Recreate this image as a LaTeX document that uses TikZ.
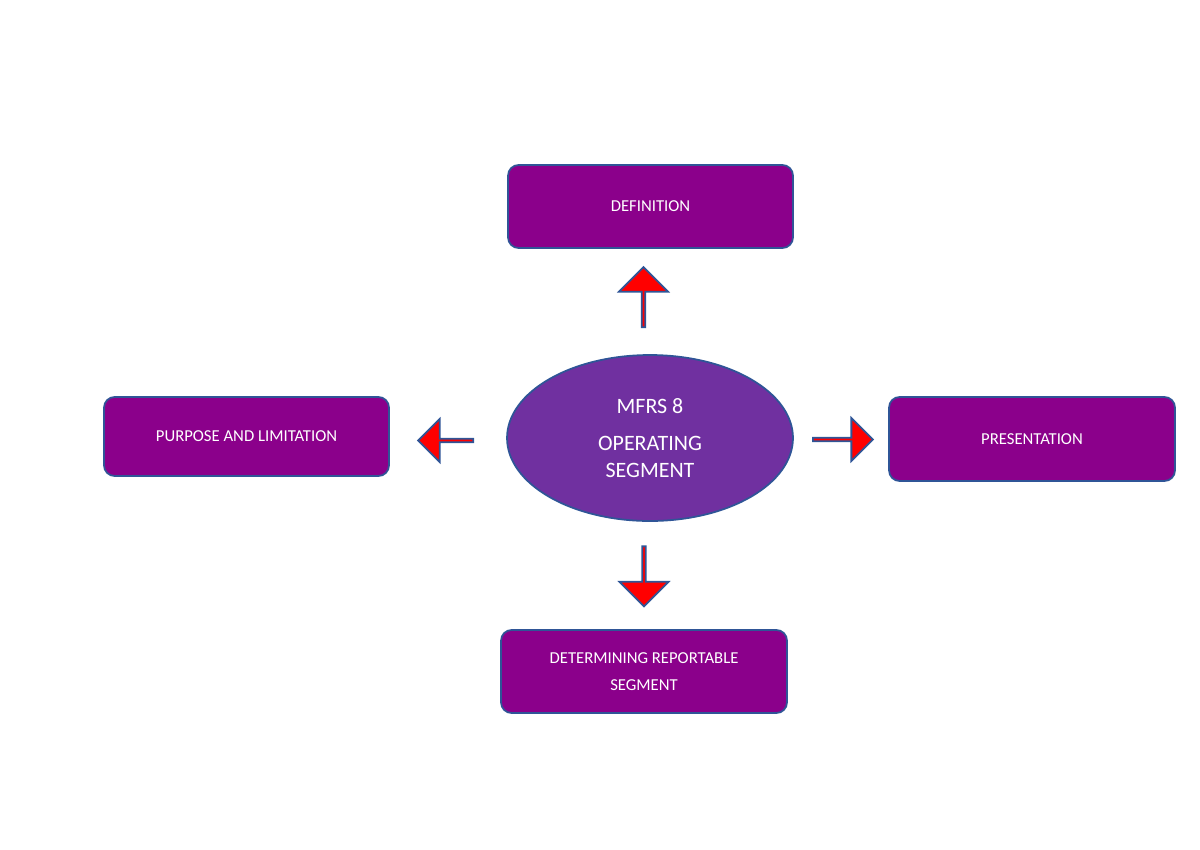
\documentclass[tikz,border=0pt]{standalone}
\usepackage{fontspec}
\setmainfont{Carlito}
\usetikzlibrary{shapes.geometric,shapes.arrows}
\definecolor{boxp}{HTML}{8B008B}
\definecolor{ellp}{HTML}{7030A0}
\definecolor{edge}{HTML}{2F5597}
\begin{document}
\begin{tikzpicture}[x=0.02cm,y=-0.02cm,
  box/.style={draw=edge,line width=1pt,fill=boxp,rounded corners=6pt,text=white,font=\fontsize{9.5}{12}\selectfont,align=center,inner sep=0pt},
  arr/.style={single arrow,draw=edge,line width=1pt,fill=red,single arrow head extend=0.24cm,minimum width=0.98cm,minimum height=1.2cm,inner sep=0pt}]
\path[use as bounding box] (0,0) rectangle (1200,849);
\node[box,minimum width=5.7cm,minimum height=1.66cm] (def) at (650.5,206.5) {DEFINITION};
\node[box,minimum width=5.7cm,minimum height=1.58cm] (pur) at (246.5,436.5) {PURPOSE AND LIMITATION};
\node[box,minimum width=5.72cm,minimum height=1.68cm] (pre) at (1032,439) {PRESENTATION};
\node[box,minimum width=5.72cm,minimum height=1.66cm] (det) at (644,671.5) {DETERMINING REPORTABLE\\[3pt]SEGMENT};
\node[ellipse,draw=edge,line width=1pt,fill=ellp,minimum width=5.72cm,minimum height=3.32cm,text=white,font=\fontsize{12.5}{15}\selectfont,align=center] (c) at (650,438) {MFRS 8\\[6pt]OPERATING\\SEGMENT};
\node[arr,shape border rotate=90] (au) at (643.5,298) {};
\node[arr,shape border rotate=270] (ad) at (644,575.5) {};
\node[arr,shape border rotate=180,minimum height=1.1cm,minimum width=0.86cm,single arrow head extend=0.2cm] (al) at (446.5,440.5) {};
\node[arr,minimum height=1.2cm,minimum width=0.86cm,single arrow head extend=0.2cm] (ar) at (842,439.5) {};
\end{tikzpicture}
\end{document}
